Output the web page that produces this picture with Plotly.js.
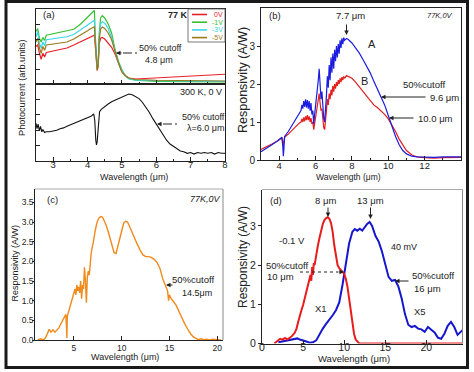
<!DOCTYPE html>
<html><head><meta charset="utf-8">
<script src="https://cdn.plot.ly/plotly-3.0.1.min.js"></script>
<style>html,body{margin:0;padding:0;background:#fff}#c{width:474px;height:372px}</style>
</head><body><div id="c"></div>
<script>
// ---------- panel (a), 77 K, photocurrent (arb. units) ----------
const aTopX=[2.5,2.55,2.6,2.65,2.7,2.75,2.8,3.0,3.2,3.4,3.6,3.8,4.0,4.1,4.2,4.22,4.25,4.28,4.31,4.34,4.38,4.43,4.5,4.6,4.7,4.8,4.9,5.0,5.1,5.2,5.4,6.0,7.0,8.0];
const a0V =[50,52,41,33,41,36,42,44,46,48,52,56,61,63,65,54,28,18,24,54,61,62,60,55,49,40,27,16,11,8,6.7,8,10,13];
const a1V =[70,74,61,56,62,58,65,67,68,70,73,80,89,93,98,68,32,21,28,68,88,91,88,80,68,46,30,19,11,7,5,3.6,3.1,2.7];
const a3V =[63,70,54,48,56,51,59,60,62,63,66,72,79,82,85,63,30,20,28,63,80,83,81,74,62,45,28,18,11,7,5.3,4.4,4,3.6];
const a5V =[56,61,48,41,50,45,52,53,55,56,60,65,71,74,76,59,28,19,25,59,73,76,74,68,59,43,28,16,11,8,6,5,4.4,4];
const aNames=['0V','-1V','-3V','-5V'];
// ---------- panel (a), 300 K, 0 V ----------
const aBotX=[2.5,2.53,2.56,2.6,2.63,2.67,2.7,2.75,2.8,2.9,3.0,3.1,3.2,3.3,3.4,3.5,3.6,3.7,3.8,3.9,4.0,4.1,4.18,4.21,4.24,4.26,4.28,4.31,4.35,4.4,4.5,4.6,4.7,4.8,4.9,5.0,5.1,5.2,5.3,5.4,5.5,5.6,5.7,5.8,5.9,6.0,6.1,6.2,6.3,6.4,6.5,6.6,6.7,6.8,6.9,7.0,7.1,7.2,7.3,7.4,7.5,7.6,7.7,7.8,7.9,8.0];
const aBotY=[49,42,48,39,45,38,41,37,38,38,39,40,42,43,45,47,49,50,52,54,56,58,61,53,27,21,25,45,64,67,71,74,77,79,82,84,86,87,86,84,81,76,70,63,55,48,40,34,27,22,19,16,13,12,10,11,9,11,10,11,10,11,9,11,10,10];
const aTicks=[3,4,5,6,7,8];
// ---------- panel (b), 77K 0V, responsivity A/W ----------
const bX=[3.0,3.3,3.6,3.9,4.1,4.15,4.2,4.23,4.26,4.3,4.5,4.7,4.9,5.0,5.1,5.2,
5.25,5.3,5.35,5.4,5.45,5.5,5.55,5.6,5.65,5.7,5.75,5.8,5.85,5.9,5.95,6.0,6.05,6.1,6.15,6.2,6.25,6.3,6.35,6.4,6.45,6.5,6.55,6.6,6.65,6.7,6.75,6.8,6.85,6.9,6.95,7.0,7.05,7.1,7.15,7.2,7.25,7.3,7.35,7.4,7.45,7.5,7.55,7.6,
7.7,7.8,8.0,8.2,8.4,8.6,8.8,9.0,9.2,9.4,9.6,9.8,10.0,10.2,10.4,10.6,10.8,11.0,11.3,11.6,12.0,12.5,13.0,13.5,14.0];
const bA=[0.22,0.3,0.4,0.5,0.57,0.6,0.35,0.1,0.3,0.62,0.75,0.9,1.05,1.12,1.2,1.3,
1.45,1.35,1.55,1.4,1.6,1.38,1.58,1.35,1.55,1.3,1.5,1.2,1.3,0.95,1.2,1.4,1.6,1.9,2.1,2.4,2.0,1.6,1.8,1.3,1.1,1.0,1.3,1.7,2.2,1.9,2.5,2.1,2.7,2.3,2.8,2.4,2.9,2.6,3.0,2.7,3.05,2.8,3.15,2.95,3.2,3.05,3.22,3.15,
3.2,3.17,3.08,2.95,2.82,2.65,2.48,2.3,2.08,1.88,1.66,1.45,1.17,0.88,0.62,0.4,0.25,0.16,0.1,0.08,0.07,0.07,0.08,0.08,0.08];
const bB=[0.28,0.34,0.42,0.5,0.56,0.58,0.45,0.38,0.5,0.6,0.68,0.78,0.88,0.92,0.97,1.0,
1.08,1.0,1.12,1.02,1.15,1.05,1.18,1.05,1.15,1.0,1.1,0.95,1.0,0.8,0.95,1.1,1.25,1.4,1.55,1.75,1.5,1.3,1.35,1.0,0.85,0.8,1.0,1.3,1.6,1.45,1.75,1.6,1.85,1.7,1.95,1.8,2.0,1.88,2.05,1.95,2.1,2.0,2.15,2.05,2.18,2.1,2.2,2.15,
2.22,2.2,2.15,2.05,1.93,1.8,1.67,1.55,1.45,1.38,1.3,1.2,1.08,0.92,0.75,0.55,0.38,0.25,0.13,0.08,0.06,0.05,0.06,0.06,0.07];
const bTicks=[4,6,8,10,12];
// ---------- panel (c) ----------
const cX=[1.2,1.5,1.8,2.0,2.2,2.4,2.6,2.8,3.0,3.2,3.4,3.6,3.8,4.0,4.15,4.22,4.26,4.3,4.5,4.7,4.9,5.0,5.1,5.2,5.3,5.4,5.5,5.6,5.7,5.8,5.9,6.0,6.1,6.2,6.3,6.4,6.5,6.6,6.7,6.8,6.9,7.0,7.2,7.4,7.6,7.8,8.0,8.2,8.4,8.6,8.8,9.0,9.2,9.4,9.6,9.8,10.0,10.2,10.4,10.6,10.8,11.0,11.3,11.6,11.9,12.2,12.5,12.8,13.1,13.4,13.7,14.0,14.3,14.6,14.8,14.9,15.0,15.1,15.2,15.4,15.7,16.0,16.3,16.6,16.9,17.2,17.5,17.8,18.0,18.3,18.6,18.9,19.2,19.5,19.8,20.1,20.4];
const cY=[0.0,0.03,0.0,0.05,0.15,0.27,0.2,0.26,0.2,0.24,0.3,0.4,0.5,0.6,0.65,0.3,0.05,0.6,0.8,0.98,1.12,1.2,1.3,1.15,1.4,1.25,1.35,1.2,1.5,1.05,1.4,1.3,1.85,1.5,0.95,1.6,1.75,1.65,2.0,2.2,2.35,2.45,2.75,2.98,3.1,3.14,3.12,3.02,2.9,2.74,2.55,2.35,2.22,2.2,2.4,2.65,2.85,2.97,3.02,3.0,2.9,2.78,2.6,2.45,2.3,2.17,2.12,2.12,2.1,2.05,1.97,1.82,1.55,1.35,1.25,1.0,1.15,1.08,1.05,0.98,0.88,0.72,0.55,0.41,0.28,0.16,0.08,0.03,0.01,0.03,0.01,0.02,0.0,0.02,0.01,0.0,0.0];
const cTickVals=[0,0.5,1,1.5,2,2.5,3,3.5];
const cTickText=['0.0','0.5','1.0','1.5','2.0','2.5','3.0','3.5'];
// ---------- panel (d) ----------
const dRX=[1.5,1.9,2.2,2.5,2.8,3.1,3.4,3.7,4.0,4.2,4.4,4.6,4.8,5.0,5.2,5.4,5.6,5.8,5.9,6.0,6.1,6.2,6.3,6.4,6.5,6.6,6.8,7.0,7.2,7.4,7.6,7.8,8.0,8.2,8.4,8.6,8.8,9.0,9.2,9.4,9.6,9.8,10.0,10.2,10.4,10.6,10.8,11.0,11.2,11.4,11.6,11.8,12.0,13,15,18,21,24.4];
const dRY=[0,0.08,0.12,0.1,0.14,0.1,0.15,0.2,0.28,0.38,0.55,0.72,0.85,0.98,1.15,1.3,1.45,1.6,1.75,1.6,1.95,1.75,2.05,2.0,2.15,2.3,2.5,2.7,2.9,3.05,3.15,3.2,3.22,3.18,3.08,2.85,2.5,2.2,2.0,1.92,1.88,1.84,1.78,1.65,1.45,1.15,0.8,0.5,0.25,0.1,0.04,0.01,0,0,0,0,0,0];
const dBX=[2.0,2.5,3.0,3.5,4.0,4.3,4.6,5.0,5.4,5.8,6.2,6.6,7.0,7.4,7.8,8.2,8.6,9.0,9.4,9.8,10.2,10.6,11.0,11.3,11.6,11.9,12.2,12.5,12.8,13.1,13.4,13.8,14.2,14.6,15.0,15.4,15.8,16.2,16.6,17.0,17.4,17.8,18.2,18.6,19.0,19.4,19.8,20.2,20.6,21.0,21.4,21.8,22.2,22.6,23.0,23.4,23.8,24.2,24.4];
const dBY=[0.03,0.05,0.08,0.1,0.12,0.13,0.1,0.08,0.05,0.02,0.03,0.08,0.25,0.38,0.5,0.6,0.72,0.85,1.05,1.5,2.05,2.55,2.85,2.92,2.88,2.93,2.88,2.98,3.05,3.1,3.0,2.75,2.6,2.35,2.0,1.7,1.6,1.62,1.45,1.15,0.75,0.48,0.42,0.45,0.38,0.36,0.3,0.42,0.35,0.28,0.15,0.12,0.25,0.45,0.55,0.42,0.22,0.3,0.34];
const dTicks=[0,5,10,15,20];

const W=474,H=372;
const F='"Liberation Sans",Arial,sans-serif';
const K='#222';
const aCol=['#e8222a','#33c033','#3ad6e6','#9c7a1c'];
function xd(l,r){return [l/W,r/W];}
function yd(t,b){return [1-b/H,1-t/H];}
function fnt(s,c){return {family:F,size:s,color:c||K};}
function ax(o){return Object.assign({showgrid:false,zeroline:false,showline:true,linecolor:K,linewidth:1,mirror:true,ticks:'inside',ticklen:4,tickcolor:K,tickwidth:1,tickfont:fnt(10),ticklabeloverflow:'allow',fixedrange:true},o);}
function lab(o){return Object.assign({anchor:'free',showline:false,showgrid:false,zeroline:false,ticks:'',ticklabeloverflow:'allow',fixedrange:true},o);}
function L(x,y,xa,ya,c,w){return {x:x,y:y,xaxis:xa,yaxis:ya,type:'scatter',mode:'lines',line:{color:c,width:w},showlegend:false,hoverinfo:'skip'};}
function carrier(x,y,xa,ya){return {x:x,y:y,xaxis:xa,yaxis:ya,type:'scatter',mode:'lines',line:{width:0,color:'rgba(0,0,0,0)'},showlegend:false,hoverinfo:'skip'};}

const data=[];
[a0V,a1V,a3V,a5V].forEach((s,i)=>data.push(L(aTopX,s,'x','y',aCol[i],1.2)));
data.push(L(aBotX,aBotY,'x2','y2','#111',1.1));
data.push(L(bX,bB,'x3','y3','#e41d1d',1.2));
data.push(L(bX,bA,'x3','y3','#1c1ce0',1.2));
data.push(L(cX,cY,'x4','y4','#f08a1c',1.4));
data.push(L(dBX,dBY,'x5','y5','#1616cc',2));
data.push(L(dRX,dRY,'x5','y5','#e81c1c',2));
data.push(carrier([0,24.4],[0,0],'x6','y5'));
data.push(carrier([2.5,8],[0,0],'x7','y2'));
data.push(carrier([3,14],[0,0],'x8','y3'));
data.push(carrier([1,20],[0,3.5],'x4','y6'));

function T(t,x,y,s,o){return Object.assign({text:t,xref:'paper',yref:'paper',x:x/W,y:1-y/H,showarrow:false,xanchor:'left',yanchor:'middle',font:fnt(s)},o||{});}
function A(hx,hy,tx,ty){return {text:'',xref:'paper',yref:'paper',x:hx/W,y:1-hy/H,ax:tx-hx,ay:ty-hy,axref:'pixel',ayref:'pixel',showarrow:true,arrowhead:2,arrowsize:0.9,arrowwidth:1,arrowcolor:K};}
function S(x0,y0,x1,y1,c,w,d){return {type:'line',xref:'paper',yref:'paper',x0:x0/W,y0:1-y0/H,x1:x1/W,y1:1-y1/H,line:{color:c,width:w,dash:d||'solid'}};}
const C={xanchor:'center'};
const V={xanchor:'center',textangle:-90};

const ann=[
 // (a)
 T('(a)',41,15,9.5),T('<b>77 K</b>',166,15,9),
 T('50% cutoff',137,48,9),T('4.8 μm',143,60,9),
 T('300 K, 0 V',178,92,9),T('50% cutoff',180,117,9),T('λ=6.0 μm',185,128,9),
 T('Photocurrent (arb.units)',22,88,9.2,V),
 T('Wavelength (μm)',134,176.5,9,C),
 // (b)
 T('(b)',267,16,9.5),T('7.7 μm',350,16,9.5,C),
 T('<i>77K,0V</i>',425,16,7.5),
 T('A',372,44,11,C),T('B',364,81,11,C),
 T('50%cutoff',401,84,9.5),T('9.6 μm',428,97,9.5),T('10.0 μm',416,119,9.5),
 T('Responsivity (A/W)',243,80,12.5,V),
 T('Wavelength (μm)',348,177,8.5,C),
 // (c)
 T('(c)',45,199,9.5),T('<i>77K,0V</i>',188,199,9),
 T('50%cutoff',170,279,9.5),T('14.5μm',180,293,9),
 T('Responsivity (A/W)',14.5,263,9,V),
 T('Wavelength (μm)',125,357,9,C),
 // (d)
 T('(d)',268,200,9.5),T('8 μm',325,200,9.5,C),T('13 μm',370.5,200,9.5,C),
 T('-0.1 V',277,240,9.5),T('40 mV',389,247,9),
 T('50%cutoff',264,265,9.5),T('10 μm',265,276,9.5),
 T('50%cutoff',410,275,9.5),T('16 μm',412,288,9.5),
 T('X1',313,308,9.5),T('X5',412,311,9.5),
 T('Responsivity (A/W)',243,257,12,V),
 T('Wavelength (μm)',354,358,9.5,C),
 // arrows
 A(116,53,123,53),A(157,124,163,124),
 A(346.5,35,346.5,23),A(381,97,427,97),A(389,118,415,118),
 A(166,285,174,285),
 A(328,217,328,206),A(370.5,219,370.5,206),
 A(344,272,337,272),A(395,281,410,281)
];
aNames.forEach((n,i)=>ann.push(T(n,224,14.5+i*7.7,7,{xanchor:'right',borderpad:0,font:fnt(7,aCol[i])})));

const shapes=[
 {type:'rect',xref:'paper',yref:'paper',x0:6/W,x1:467.5/W,y0:1-367.5/H,y1:1-1.5/H,line:{color:'#1a1a1a',width:3}},
 {type:'rect',xref:'paper',yref:'paper',x0:188/W,x1:225/W,y0:1-42/H,y1:1-9/H,line:{color:'#555',width:0.8}},
 S(123,53,137,53,K,1,'dashdot'),S(163,124,177,124,K,1,'dashdot'),S(300,272,338,272,K,1,'dot'),
 S(35,189,223,189,'#aaa',1),S(223,189,223,340,'#888',1),
 S(262,189.5,462.5,189.5,'#aaa',1),S(462.5,189.5,462.5,343.5,'#888',1)
];
aNames.forEach((n,i)=>shapes.push(S(192,14.5+i*7.7,207,14.5+i*7.7,aCol[i],1.6)));

const layout={
 width:W,height:H,margin:{l:0,r:0,t:0,b:0},paper_bgcolor:'#fff',plot_bgcolor:'#fff',showlegend:false,
 xaxis: ax({domain:xd(36,225),range:[2.5,8],anchor:'y',dtick:1,showticklabels:false,minor:{ticks:'inside',ticklen:2,dtick:0.5,tickcolor:K}}),
 yaxis: ax({domain:yd(9,84),range:[0,100],anchor:'x',dtick:20,showticklabels:false}),
 xaxis2:ax({domain:xd(36,225),range:[2.5,8],anchor:'y2',dtick:1,showticklabels:false,minor:{ticks:'inside',ticklen:2,dtick:0.5,tickcolor:K}}),
 xaxis7:lab({overlaying:'x2',position:1-157.5/H,range:[2.5,8],tickvals:aTicks,tickfont:fnt(9.5)}),
 yaxis2:ax({domain:yd(84,161),range:[0,100],anchor:'x2',dtick:20,showticklabels:false}),
 xaxis3:ax({domain:xd(261,461),range:[3,14],anchor:'y3',tickvals:bTicks,showticklabels:false,minor:{ticks:'inside',ticklen:2,dtick:1,tickcolor:K}}),
 xaxis8:lab({overlaying:'x3',position:1-158/H,range:[3,14],tickvals:bTicks,tickfont:fnt(9.5)}),
 yaxis3:ax({domain:yd(8,160),range:[0,4],anchor:'x3',tickvals:[0,1,2,3],ticks:'outside',ticklen:3,tickfont:fnt(10)}),
 xaxis4:ax({domain:xd(35,223),range:[0.92,20.6],anchor:'y4',tickvals:[5,10,15,20],mirror:false,tickfont:fnt(8.5)}),
 yaxis4:ax({domain:yd(189,340),range:[0,3.84],anchor:'x4',tickvals:cTickVals,mirror:false,ticks:'outside',ticklen:2,showticklabels:false}),
 yaxis6:lab({overlaying:'y4',position:33.5/W,side:'left',range:[0,3.84],tickmode:'array',tickvals:cTickVals,ticktext:cTickText,tickfont:fnt(8.5)}),
 xaxis5:ax({domain:xd(262,462.5),range:[0,24.4],anchor:'y5',tickvals:dTicks,mirror:false,showticklabels:false}),
 xaxis6:lab({overlaying:'x5',position:1-339.5/H,range:[0,24.4],tickvals:dTicks,tickfont:fnt(10.5)}),
 yaxis5:ax({domain:yd(189.5,343.5),range:[0,3.93],anchor:'x5',tickvals:[0,1,2,3],mirror:false,ticks:'outside',ticklen:3,tickfont:fnt(10.5)}),
 annotations:ann,shapes:shapes
};
Plotly.newPlot('c',data,layout,{staticPlot:true,displayModeBar:false});
</script></body></html>
